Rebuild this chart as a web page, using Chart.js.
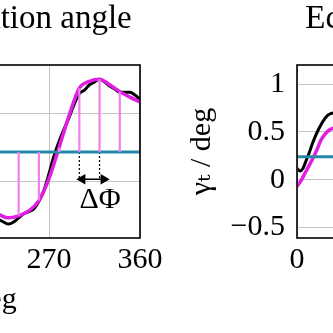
<!DOCTYPE html>
<html>
<head>
<meta charset="utf-8">
<script src="https://cdn.jsdelivr.net/npm/chart.js@4.4.1/dist/chart.umd.min.js"></script>
<style>
  html, body { margin: 0; padding: 0; background: #fff; overflow: hidden; }
  body { width: 333px; height: 333px; position: relative; }
  #leftChart { position: absolute; left: -300px; top: 0; }
  #rightChart { position: absolute; left: 170px; top: 0; }
</style>
</head>
<body>
<canvas id="leftChart" width="470" height="333"></canvas>
<canvas id="rightChart" width="521" height="333"></canvas>
<script>
// left panel: measured (black) and model (magenta) over angle
const leftMeasAngle = [220, 225, 230, 235, 240, 245, 250, 255, 260, 265, 270, 275, 280, 285, 290,
  295, 300, 305, 310, 315, 320, 325, 330, 335, 340, 345, 350, 355, 360];
const leftMeas = [-0.54, -0.58, -0.61, -0.58, -0.52, -0.46, -0.43, -0.39, -0.28, -0.12, 0.12, 0.38, 0.59, 0.77, 0.94,
  1.13, 1.28, 1.33, 1.41, 1.45, 1.49, 1.45, 1.39, 1.35, 1.30, 1.30, 1.30, 1.26, 1.20];
const leftModelAngle = [220, 230, 240, 250, 260, 270, 280, 290, 300, 310, 320, 330, 340, 350, 360];
const leftModel = [-0.47, -0.52, -0.49, -0.42, -0.27, 0.05, 0.50, 0.97, 1.36, 1.46, 1.49, 1.41, 1.31, 1.23, 1.16];
const leftMean = 0.435;
const leftYTicks = [0, 1];

// phase shift marker
const deltaAngles = [300, 320];
const deltaLevel = 0.04;
const deltaText = "ΔΦ";
const deltaTextPos = [320.5, -0.26];

// right panel
const rightMeasAngle = [0, 3, 6, 9, 12, 15, 18, 21, 24, 27, 30, 33, 36, 40];
const rightMeas = [0.12, 0.09, 0.12, 0.20, 0.28, 0.37, 0.45, 0.52, 0.58, 0.63, 0.67, 0.69, 0.70, 0.72];
const rightModelAngle = [0, 4, 8, 12, 16, 20, 24, 28, 32, 36, 40];
const rightModel = [-0.07, -0.01, 0.07, 0.15, 0.23, 0.32, 0.42, 0.48, 0.52, 0.54, 0.56];
const rightMean = 0.24;

const serif = "'Liberation Serif', 'DejaVu Serif', serif";
const fs = 30;
const titleFs = 33;
const black = "#000000";
const magenta = "#e01ee0";
const stemPink = "#ef80ef";
const teal = "#2688a8";
const gridGray = "#c4c4c4";

function pts(xs, ys) {
  return xs.map((x, i) => ({ x: x, y: ys[i] }));
}

// vertical segments from the mean line to the model, every 20 deg
function stems(xs, ys, base) {
  const out = [];
  xs.forEach((x, i) => {
    if (x % 20 === 0) {
      out.push({ x: x, y: base }, { x: x, y: ys[i] }, { x: x, y: null });
    }
  });
  return out;
}

function fmt(v) {
  return v < 0 ? "\u2212" + Math.abs(v) : String(v);
}

const frame = {
  id: "frame",
  afterDraw(chart) {
    const { ctx, chartArea: a } = chart;
    ctx.save();
    ctx.strokeStyle = black;
    ctx.lineWidth = 1.6;
    ctx.strokeRect(a.left, a.top, a.right - a.left, a.bottom - a.top);
    ctx.restore();
  },
};

const deltaLabel = {
  id: "deltaLabel",
  afterDatasetsDraw(chart) {
    const { ctx, scales } = chart;
    ctx.save();
    ctx.font = fs + "px " + serif;
    ctx.fillStyle = black;
    ctx.textAlign = "center";
    ctx.textBaseline = "middle";
    ctx.fillText(deltaText, scales.x.getPixelForValue(deltaTextPos[0]), scales.y.getPixelForValue(deltaTextPos[1]));
    ctx.restore();
  },
};

function xScale(titleText) {
  return {
    type: "linear",
    min: 0,
    max: 360,
    ticks: { stepSize: 90, color: black, padding: 4.5, font: { family: serif, size: fs, lineHeight: 1.2 } },
    grid: { color: gridGray, lineWidth: 1, drawTicks: false },
    border: { display: false },
    title: {
      display: true,
      text: titleText,
      color: black,
      font: { family: serif, size: fs, lineHeight: 1.2 },
      padding: { top: 0, bottom: 15 },
    },
    afterFit(scale) { scale.height = 95; },
  };
}

function titleOpts(text, align) {
  return {
    display: true,
    text: text,
    align: align,
    fullSize: false,
    color: black,
    font: { family: serif, size: titleFs, weight: "normal", lineHeight: 1.2 },
    padding: { top: 0, bottom: 25.4 },
  };
}

new Chart(document.getElementById("leftChart"), {
  type: "line",
  data: {
    datasets: [
      { data: stems(leftModelAngle, leftModel, leftMean), borderColor: stemPink, borderWidth: 2.2, spanGaps: false },
      { data: [{ x: 0, y: leftMean }, { x: 360, y: leftMean }], borderColor: teal, borderWidth: 3.2 },
      {
        data: [
          { x: deltaAngles[0], y: leftMean }, { x: deltaAngles[0], y: deltaLevel }, { x: deltaAngles[0], y: null },
          { x: deltaAngles[1], y: leftMean }, { x: deltaAngles[1], y: deltaLevel },
        ],
        borderColor: black, borderWidth: 1.2, borderDash: [2, 2], spanGaps: false,
      },
      {
        data: [{ x: deltaAngles[0] + 3, y: deltaLevel }, { x: deltaAngles[1] + 4, y: deltaLevel }],
        borderColor: black, backgroundColor: black, borderWidth: 1.5,
        pointStyle: "triangle", pointRadius: 4.5, pointRotation: [-90, 90],
      },
      { data: pts(leftModelAngle, leftModel), borderColor: magenta, borderWidth: 3.5, cubicInterpolationMode: "monotone" },
      { data: pts(leftMeasAngle, leftMeas), borderColor: black, borderWidth: 3, cubicInterpolationMode: "monotone" },
    ],
  },
  options: {
    responsive: false,
    animation: false,
    layout: { padding: { left: 0, right: 30, top: 0, bottom: 0 } },
    elements: { point: { radius: 0 } },
    plugins: {
      legend: { display: false },
      tooltip: { enabled: false },
      title: titleOpts("Rotation angle ", "end"),
    },
    scales: {
      x: xScale("φrot / deg"),
      y: {
        type: "linear",
        min: -0.812,
        max: 1.696,
        afterBuildTicks(scale) { scale.ticks = leftYTicks.map((v) => ({ value: v })); },
        ticks: { color: black, padding: 12, font: { family: serif, size: fs } },
        grid: { color: gridGray, lineWidth: 1, drawTicks: false },
        border: { display: false },
        afterFit(scale) { scale.width = 76; },
      },
    },
  },
  plugins: [frame, deltaLabel],
});

new Chart(document.getElementById("rightChart"), {
  type: "line",
  data: {
    datasets: [
      { data: [{ x: 0, y: rightMean }, { x: 0, y: rightModel[0] }], borderColor: "#d895d8", borderWidth: 2.2 },
      { data: [{ x: 0, y: rightMean }, { x: 360, y: rightMean }], borderColor: teal, borderWidth: 3.2 },
      { data: pts(rightModelAngle, rightModel), borderColor: magenta, borderWidth: 3.5, cubicInterpolationMode: "monotone" },
      { data: pts(rightMeasAngle, rightMeas), borderColor: black, borderWidth: 3, cubicInterpolationMode: "monotone" },
    ],
  },
  options: {
    responsive: false,
    animation: false,
    layout: { padding: { left: 0, right: 30, top: 0, bottom: 0 } },
    elements: { point: { radius: 0 } },
    plugins: {
      legend: { display: false },
      tooltip: { enabled: false },
      title: titleOpts(" Eccentricity angle", "start"),
    },
    scales: {
      x: xScale("φrot / deg"),
      y: {
        type: "linear",
        min: -0.61,
        max: 1.2,
        ticks: {
          stepSize: 0.5, includeBounds: false, color: black, padding: 12,
          font: { family: serif, size: fs },
          callback: (v) => fmt(v),
        },
        grid: { color: gridGray, lineWidth: 1, drawTicks: false },
        border: { display: false },
        title: {
          display: true,
          text: "γₜ / deg",
          color: black,
          font: { family: serif, size: fs, lineHeight: 1.2 },
          padding: { top: 14.5, bottom: 0 },
        },
        afterFit(scale) { scale.width = 127; },
      },
    },
  },
  plugins: [frame],
});
</script>
</body>
</html>
